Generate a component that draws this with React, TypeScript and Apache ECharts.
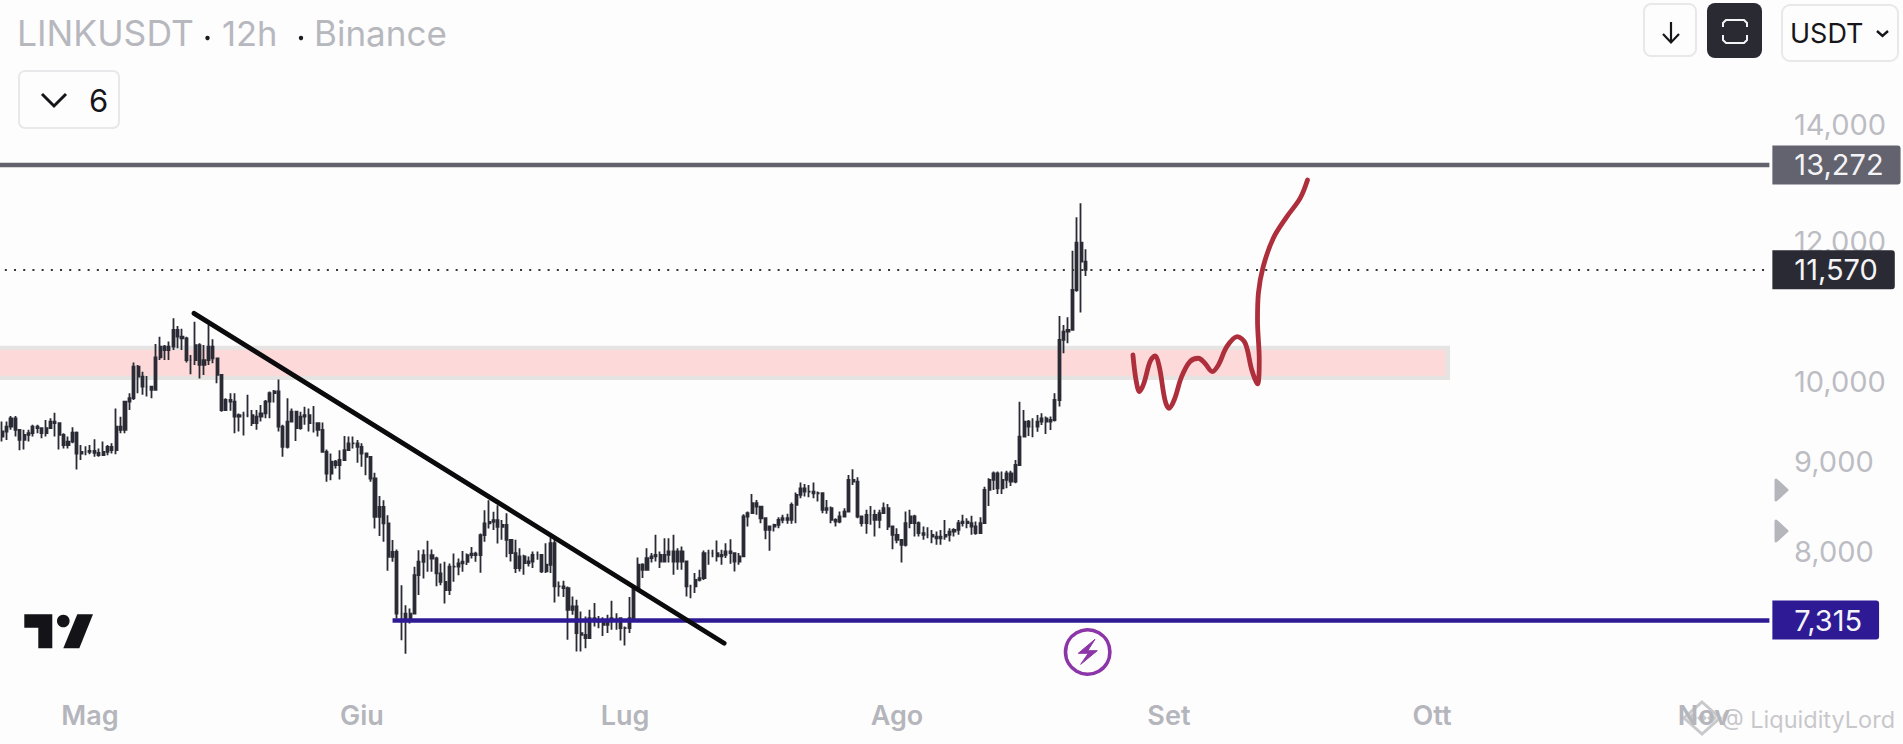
import React, { useEffect, useRef } from "react";
import * as echarts from "echarts";

const firstOpen = 9300;
const closes = [
9363,9424,9526,9383,9260,9322,9342,9424,9404,9342,9404,9485,9465,9322,9198,9240,9350,9097,9117,9117,
9129,9105,9077,9117,9177,9137,9424,9383,9737,9780,10193,10060,9930,9930,9887,10317,10462,10416,10462,10694,
10600,10578,10281,10281,10485,10215,10281,10462,10304,10082,9630,9758,9737,9546,9566,9566,9566,9465,9546,9587,
9737,9844,9866,9424,9177,9485,9608,9404,9546,9566,9465,9465,9383,9117,8862,9000,8960,9020,9137,9219,
9219,9177,9097,9058,8804,8373,8483,8301,7946,7998,7376,7376,7313,7376,7758,7895,7964,7964,7929,7775,
7690,7607,7844,7844,7878,7895,7964,7980,7964,8175,8301,8319,8337,8265,8286,8125,7985,7830,7950,7880,
7898,7967,7967,7796,7864,8089,7644,7644,7627,7414,7447,7191,7175,7144,7333,7317,7301,7270,7317,7333,
7333,7238,7238,7333,7627,7864,7813,7933,7950,7967,7898,7967,8002,7898,8002,7898,7644,7644,7710,7728,
7985,7985,7985,7950,7967,8002,7985,7898,7950,8377,8413,8524,8487,8358,8231,8268,8286,8340,8358,8340,
8506,8617,8692,8655,8655,8636,8636,8450,8468,8340,8322,8377,8431,8788,8769,8377,8304,8395,8395,8340,
8413,8468,8268,8178,8125,8072,8304,8377,8304,8196,8178,8178,8160,8142,8160,8178,8213,8231,8304,8322,
8304,8268,8196,8304,8674,8788,8864,8692,8788,8864,8769,8961,9301,9484,9423,9423,9484,9526,9484,9505,
9757,10555,10671,10694,11268,11988,11695,11570
];
const highs = [
9485,9485,9555,9555,9383,9383,9383,9445,9445,9404,9506,9526,9595,9383,9342,9301,9416,9363,9198,9185,
9198,9268,9157,9240,9198,9219,9650,9546,9737,9844,10247,10215,10126,10068,9938,10500,10600,10485,10532,10858,
10750,10712,10600,10349,10810,10509,10485,10765,10564,10304,10082,9780,9844,9844,9587,9608,9823,9630,9630,9693,
9758,9866,9887,10024,9445,9780,9650,9608,9608,9672,9650,9680,9473,9473,9145,9097,9020,9137,9309,9301,
9301,9260,9219,9105,9058,8870,8604,8558,8391,8122,8022,7657,7459,7426,7844,8015,8022,8115,8022,7946,
7878,7895,7878,7980,7929,8008,7980,8050,7998,8193,8446,8558,8428,8502,8340,8413,8132,8125,8036,7967,
7950,8002,8002,7950,8089,8153,8125,7693,7700,7644,7544,7512,7398,7349,7414,7479,7355,7342,7365,7502,
7381,7317,7254,7538,7651,7940,7880,8036,7985,8178,8002,8142,8142,8178,8036,8054,7880,7660,7779,7813,
8012,8019,8019,8118,8019,8089,8132,7985,7985,8402,8431,8628,8561,8487,8370,8268,8297,8370,8395,8406,
8531,8644,8758,8742,8730,8758,8655,8636,8561,8487,8358,8431,8468,8845,8911,8818,8377,8450,8494,8450,
8450,8531,8516,8268,8250,8107,8431,8450,8395,8322,8268,8261,8231,8213,8231,8340,8250,8250,8340,8395,
8358,8384,8322,8370,8711,8807,8884,8884,8884,8895,8895,9020,9736,9630,9505,9526,9567,9588,9547,9547,
9843,10892,10765,10873,11864,12394,12622,11885
];
const lows = [
9240,9260,9383,9301,9137,9145,9240,9301,9342,9281,9301,9404,9301,9145,9157,9157,9219,8909,9020,9077,
9089,9058,9058,9066,9077,9097,9089,9342,9342,9630,9758,9844,9823,9801,9780,9887,10281,10281,10281,10416,
10440,10416,10247,10092,10215,10037,10082,10215,10237,9972,9608,9620,9620,9342,9363,9313,9538,9432,9383,9485,
9526,9526,9724,9363,9058,9157,9485,9248,9383,9445,9363,9350,9301,9105,8766,8785,8920,8793,9020,9137,
9157,8988,8940,8843,8766,8247,8165,8104,7802,7895,7329,7124,7000,7281,7376,7558,7723,7792,7792,7647,
7657,7476,7558,7690,7758,7792,7861,7929,7895,7782,8104,8247,8229,8086,8125,7943,7898,7779,7796,7762,
7847,7830,7915,7779,7779,7779,7486,7544,7538,7128,7365,7020,7020,7050,7238,7254,7238,7165,7191,7222,
7222,7122,7075,7191,7317,7644,7728,7806,7887,7898,7830,7887,7887,7762,7813,7813,7544,7528,7578,7693,
7710,7864,7943,7898,7864,7933,7874,7796,7864,7950,8268,8413,8395,8304,8132,8009,8213,8250,8304,8297,
8297,8304,8580,8598,8591,8580,8542,8413,8406,8304,8268,8304,8377,8431,8730,8358,8268,8189,8286,8160,
8250,8413,8231,8026,8089,7887,8054,8250,8160,8160,8125,8142,8089,8072,8072,8125,8107,8160,8178,8268,
8250,8178,8178,8196,8297,8494,8674,8628,8628,8692,8719,8750,8973,9309,9309,9293,9361,9443,9333,9382,
9485,9673,10372,10509,10694,11244,10940,11478
];
const redX = [257.8,258.5,259.3,260.3,261.7,262.8,263.8,265.1,266.0,267.2,268.9,270.8,272.7,274.2,275.9,277.3,279.2,281.6,283.4,284.9,286.2,286.6,286.2,286.4,287.5,289.8,292.9,295.9,297.6];
const redY = [10349,10016,9865,9973,10260,10336,10193,9757,9652,9757,10060,10260,10305,10238,10127,10216,10463,10602,10509,10147,9964,10282,10834,11220,11618,12058,12404,12704,13013];
const monthLabels: Record<number, string> = { 20: "Mag", 82: "Giu", 142: "Lug", 204: "Ago", 266: "Set", 326: "Ott", 388: "Nov" };
const priceTicks = [8000, 9000, 10000, 12000, 14000];
const resistanceLevel = 13272;
const lastPrice = 11570;
const supportLevel = 7315;
const zoneOuter = [10015, 10476];
const zoneInner = [10073, 10418];
const trendStart = [43.73, 10929];
const trendEnd = [164.6, 7097];
const barCount = 404;
const categories = Array.from({ length: barCount }, (_, i) => `c${i}`);

const ink = "#2b2b35";
const fmt = (v: number) => v.toLocaleString("en-US");
const font = "Inter, 'Liberation Sans', sans-serif";
const btnBorder = "#e8e8ea";

function tag(color: string, value: number) {
  return {
    show: true,
    position: "end",
    distance: 3,
    formatter: fmt(value),
    color: "#f4f4f6",
    fontFamily: font,
    fontSize: 29,
    align: "left",
    verticalAlign: "middle",
    backgroundColor: color,
    borderRadius: [0, 3, 3, 0],
    padding: [6, 17, 4, 22],
  };
}

const texts = (t: string, x: number, y: number, size: number, fill: string, extra: object = {}) => ({
  type: "text",
  x,
  y,
  silent: true,
  style: { text: t, fontSize: size, fontFamily: font, fill, verticalAlign: "middle", textVerticalAlign: "middle", ...extra },
});

export default function App() {
  const ref = useRef<HTMLDivElement>(null);
  useEffect(() => {
    document.body.style.margin = "0";
    const chart = echarts.init(ref.current!, undefined, { renderer: "svg" });
    const candles = closes.map((c, i) => [i === 0 ? firstOpen : closes[i - 1], c, lows[i], highs[i]]);
    chart.setOption({
      animation: false,
      backgroundColor: "#fefdfe",
      grid: { left: 0, top: 0, width: 1772, height: 690, containLabel: false },
      xAxis: [
        {
          type: "category",
          data: categories,
          boundaryGap: true,
          axisLine: { show: false },
          axisTick: { show: false },
          splitLine: { show: false },
          axisLabel: {
            interval: (i: number) => monthLabels[i] !== undefined,
            formatter: (_: string, i: number) => monthLabels[i] ?? "",
            color: "#b4b6bc",
            fontFamily: font,
            fontWeight: 600,
            fontSize: 27,
            margin: 12,
            hideOverlap: false,
          },
        },
        { type: "value", min: -0.5, max: barCount - 0.5, show: false },
      ],
      yAxis: {
        type: "log",
        logBase: 10,
        min: 6675,
        max: 16471,
        position: "right",
        axisLine: { show: false },
        axisTick: { show: false },
        splitLine: { show: false },
        minorTick: { show: false },
        axisLabel: {
          customValues: priceTicks,
          formatter: (v: number) => fmt(v),
          color: "#bcbdc3",
          fontFamily: font,
          fontSize: 29,
          margin: 22,
          align: "left",
          padding: [0, 0, 5, 0],
        },
      },
      series: [
        {
          type: "line",
          xAxisIndex: 1,
          yAxisIndex: 0,
          data: [],
          z: 1,
          silent: true,
          markArea: {
            silent: true,
            data: [
              [
                { coord: [-0.5, zoneOuter[1]], itemStyle: { color: "#e6e4e3" } },
                { coord: [330.1, zoneOuter[0]] },
              ],
              [
                { coord: [-0.5, zoneInner[1]], itemStyle: { color: "#fdd9d9" } },
                { coord: [329, zoneInner[0]] },
              ],
            ],
          },
        },
        {
          type: "candlestick",
          data: candles,
          barWidth: 2.6,
          z: 2,
          itemStyle: { color: ink, color0: ink, borderColor: ink, borderColor0: ink, borderWidth: 1.8 },
        },
        {
          type: "line",
          xAxisIndex: 1,
          yAxisIndex: 0,
          data: [],
          z: 3,
          silent: true,
          markLine: {
            silent: true,
            symbol: "none",
            animation: false,
            data: [
              [
                { coord: [-0.5, resistanceLevel], lineStyle: { color: "#62636e", width: 4.4, type: "solid" }, label: tag("#62636e", resistanceLevel) },
                { coord: [barCount - 1.1, resistanceLevel] },
              ],
              [
                { coord: [0.6, lastPrice], lineStyle: { color: "#33333a", width: 2, type: [2, 7.2] }, label: tag("#2a2a35", lastPrice) },
                { coord: [barCount - 1.1, lastPrice] },
              ],
              [
                { coord: [89, supportLevel], lineStyle: { color: "#2e1a94", width: 4.6, type: "solid" }, label: tag("#2e1a94", supportLevel) },
                { coord: [barCount - 1.1, supportLevel] },
              ],
              [
                { coord: trendStart, lineStyle: { color: "#0b0b0d", width: 4.8, type: "solid", cap: "round" }, label: { show: false } },
                { coord: trendEnd },
              ],
            ],
          },
        },
        {
          type: "line",
          xAxisIndex: 1,
          yAxisIndex: 0,
          z: 4,
          silent: true,
          showSymbol: false,
          smooth: 0.35,
          data: redX.map((x, i) => [x, redY[i]]),
          lineStyle: { color: "#ae2f3c", width: 4.8, cap: "round", join: "round" },
        },
      ],
      graphic: {
        elements: [
          texts("LINKUSDT", 17, 33, 35.5, "#b6b8be"),
          { type: "circle", silent: true, shape: { cx: 207.5, cy: 38, r: 2.2 }, style: { fill: "#1a1a1f" } },
          texts("12h", 222, 33, 34.5, "#b6b8be"),
          { type: "circle", silent: true, shape: { cx: 301, cy: 38, r: 2.2 }, style: { fill: "#1a1a1f" } },
          texts("Binance", 314, 33, 35, "#b6b8be"),
          { type: "rect", silent: true, shape: { x: 19, y: 71, width: 100, height: 57, r: 6 }, style: { fill: "#fefdfe", stroke: btnBorder, lineWidth: 2 } },
          { type: "polyline", silent: true, shape: { points: [[42, 94], [54, 106], [66, 94]] }, style: { stroke: "#16161a", lineWidth: 3, fill: "none" } },
          texts("6", 89, 100, 31, "#16161a"),
          { type: "rect", silent: true, shape: { x: 1644, y: 4, width: 52, height: 52, r: 7 }, style: { fill: "#fefdfe", stroke: btnBorder, lineWidth: 2 } },
          { type: "polyline", silent: true, shape: { points: [[1671, 22], [1671, 42]] }, style: { stroke: "#16161a", lineWidth: 2.2, fill: "none" } },
          { type: "polyline", silent: true, shape: { points: [[1663, 34], [1671, 42.5], [1679, 34]] }, style: { stroke: "#16161a", lineWidth: 2.2, fill: "none" } },
          { type: "rect", silent: true, shape: { x: 1707, y: 3, width: 55, height: 55, r: 8 }, style: { fill: "#2a2a33" } },
          { type: "polyline", silent: true, shape: { points: [[1723, 27], [1723, 23], [1726, 20], [1744, 20], [1747, 23], [1747, 27]] }, style: { stroke: "#f4f4f6", lineWidth: 2, fill: "none" } },
          { type: "polyline", silent: true, shape: { points: [[1723, 35], [1723, 40], [1726, 43], [1744, 43], [1747, 40], [1747, 35]] }, style: { stroke: "#f4f4f6", lineWidth: 2, fill: "none" } },
          { type: "rect", silent: true, shape: { x: 1782, y: 5, width: 116, height: 56, r: 8 }, style: { fill: "#fefdfe", stroke: btnBorder, lineWidth: 2 } },
          texts("USDT", 1790, 33, 27, "#16161a"),
          { type: "polyline", silent: true, shape: { points: [[1877, 31], [1882.5, 36], [1888, 31]] }, style: { stroke: "#16161a", lineWidth: 2.4, fill: "none" } },
          { type: "polygon", silent: true, shape: { points: [[1776, 480], [1787, 490], [1776, 500]] }, style: { fill: "#b5b5bc", stroke: "#b5b5bc", lineWidth: 3, lineJoin: "round" } },
          { type: "polygon", silent: true, shape: { points: [[1776, 521], [1787, 531], [1776, 541]] }, style: { fill: "#b5b5bc", stroke: "#b5b5bc", lineWidth: 3, lineJoin: "round" } },
          { type: "polygon", silent: true, shape: { points: [[24.3, 614.3], [52.3, 614.3], [52.3, 648.3], [38.3, 648.3], [38.3, 627.7], [24.3, 627.7]] }, style: { fill: "#131318" } },
          { type: "circle", silent: true, shape: { cx: 63.3, cy: 621, r: 6.3 }, style: { fill: "#131318" } },
          { type: "polygon", silent: true, shape: { points: [[77.3, 614.3], [93, 614.3], [79.3, 648.3], [63.3, 648.3]] }, style: { fill: "#131318" } },
          { type: "circle", silent: true, shape: { cx: 1087.7, cy: 652, r: 22.2 }, style: { fill: "none", stroke: "#8c35a8", lineWidth: 3.6 } },
          { type: "polygon", silent: true, shape: { points: [[1095, 639.3], [1078.3, 653.3], [1088.3, 653.3], [1080.7, 664.3], [1097.3, 650.7], [1087.7, 650.7]] }, style: { fill: "#8c35a8", stroke: "#8c35a8", lineWidth: 1 } },
          { type: "polygon", silent: true, shape: { points: [[1702, 702], [1720, 718], [1702, 734], [1684, 718]] }, style: { fill: "#fefdfe", stroke: "#c9c9cb", lineWidth: 3 } },
          { type: "polygon", silent: true, shape: { points: [[1692, 713], [1697, 718], [1692, 723], [1687, 718]] }, style: { fill: "#c9c9cb" } },
          { type: "polygon", silent: true, shape: { points: [[1702, 713], [1707, 718], [1702, 723], [1697, 718]] }, style: { fill: "#c9c9cb" } },
          { type: "polygon", silent: true, shape: { points: [[1712, 713], [1717, 718], [1712, 723], [1707, 718]] }, style: { fill: "#c9c9cb" } },
          texts("@ LiquidityLord", 1721, 719, 23.5, "#c8c8cb"),
        ],
      },
    });
    return () => chart.dispose();
  }, []);
  return <div ref={ref} style={{ position: "absolute", left: 0, top: 0, width: 1903, height: 744 }} />;
}
